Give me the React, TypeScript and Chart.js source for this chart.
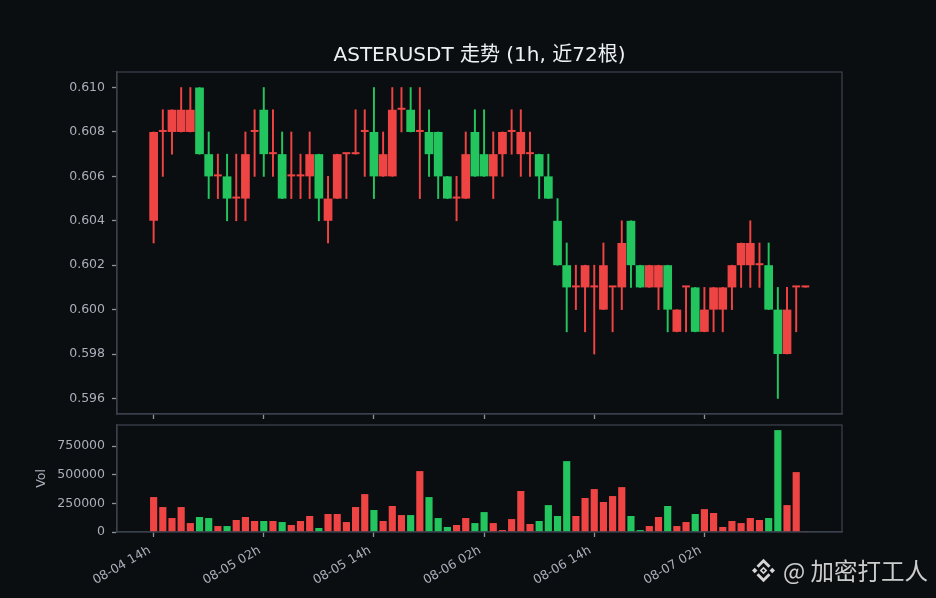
import React, { useEffect, useRef } from 'react';
import { Chart, registerables } from 'chart.js';

Chart.register(...registerables);

// ---- data (1h candles, 72 bars) ----
const opens = [
  0.608, 0.608, 0.609, 0.609, 0.609, 0.607, 0.606, 0.606, 0.605, 0.605, 0.607, 0.608,
  0.607, 0.607, 0.605, 0.606, 0.606, 0.607, 0.605, 0.605, 0.607, 0.607, 0.607, 0.608,
  0.606, 0.607, 0.609, 0.609, 0.608, 0.608, 0.607, 0.606, 0.605, 0.605, 0.607, 0.606,
  0.606, 0.607, 0.608, 0.608, 0.608, 0.607, 0.606, 0.605, 0.602, 0.601, 0.601, 0.602,
  0.601, 0.602, 0.601, 0.603, 0.602, 0.601, 0.602, 0.602, 0.600, 0.600, 0.601, 0.599,
  0.600, 0.601, 0.601, 0.602, 0.603, 0.603, 0.602, 0.600, 0.598, 0.600, 0.601, 0.601,
];
const highs = [
  0.608, 0.609, 0.609, 0.610, 0.610, 0.610, 0.608, 0.607, 0.607, 0.607, 0.608, 0.609,
  0.610, 0.609, 0.608, 0.608, 0.607, 0.608, 0.607, 0.606, 0.607, 0.607, 0.609, 0.609,
  0.610, 0.608, 0.610, 0.610, 0.610, 0.610, 0.609, 0.608, 0.606, 0.606, 0.608, 0.609,
  0.609, 0.608, 0.608, 0.609, 0.609, 0.608, 0.607, 0.607, 0.605, 0.603, 0.602, 0.602,
  0.602, 0.603, 0.601, 0.604, 0.604, 0.602, 0.602, 0.602, 0.602, 0.600, 0.601, 0.601,
  0.601, 0.601, 0.601, 0.602, 0.603, 0.604, 0.603, 0.603, 0.601, 0.601, 0.601, 0.601,
];
const lows = [
  0.603, 0.606, 0.607, 0.608, 0.608, 0.607, 0.605, 0.605, 0.604, 0.604, 0.604, 0.606,
  0.606, 0.606, 0.605, 0.605, 0.605, 0.605, 0.604, 0.603, 0.605, 0.605, 0.607, 0.606,
  0.605, 0.606, 0.606, 0.608, 0.608, 0.605, 0.606, 0.605, 0.605, 0.604, 0.605, 0.606,
  0.606, 0.605, 0.606, 0.607, 0.606, 0.606, 0.605, 0.605, 0.602, 0.599, 0.600, 0.599,
  0.598, 0.600, 0.599, 0.600, 0.601, 0.601, 0.601, 0.600, 0.599, 0.599, 0.599, 0.599,
  0.599, 0.599, 0.599, 0.600, 0.601, 0.601, 0.601, 0.600, 0.596, 0.598, 0.599, 0.601,
];
const closes = [
  0.604, 0.608, 0.608, 0.608, 0.608, 0.610, 0.607, 0.606, 0.606, 0.605, 0.605, 0.608,
  0.609, 0.607, 0.607, 0.606, 0.606, 0.606, 0.607, 0.604, 0.605, 0.607, 0.607, 0.608,
  0.608, 0.606, 0.606, 0.609, 0.609, 0.608, 0.608, 0.608, 0.606, 0.605, 0.605, 0.608,
  0.607, 0.606, 0.607, 0.608, 0.607, 0.607, 0.607, 0.606, 0.604, 0.602, 0.601, 0.601,
  0.601, 0.600, 0.601, 0.601, 0.604, 0.602, 0.601, 0.601, 0.602, 0.599, 0.601, 0.601,
  0.599, 0.600, 0.600, 0.601, 0.602, 0.602, 0.602, 0.602, 0.600, 0.598, 0.601, 0.601,
];
const volumes = [
  305000, 218000, 122000, 218000, 78000, 131000, 122000, 52000, 52000, 105000, 131000, 96000,
  96000, 96000, 87000, 61000, 96000, 140000, 35000, 157000, 157000, 87000, 218000, 331000,
  192000, 96000, 227000, 148000, 148000, 532000, 305000, 122000, 44000, 61000, 122000, 78000,
  174000, 78000, 17000, 113000, 358000, 70000, 96000, 235000, 140000, 619000, 140000, 297000,
  375000, 262000, 314000, 392000, 140000, 17000, 52000, 131000, 227000, 52000, 87000, 157000,
  200000, 166000, 44000, 96000, 78000, 122000, 105000, 122000, 890000, 235000, 523000, 2000,
];
const xTickIndex = [0, 12, 24, 36, 48, 60];
const xTickLabels = ['08-04 14h', '08-05 02h', '08-05 14h', '08-06 02h', '08-06 14h', '08-07 02h'];
const priceTicks = [0.596, 0.598, 0.6, 0.602, 0.604, 0.606, 0.608, 0.61];
const volTicks = [0, 250000, 500000, 750000];

// ---- styling ----
const UP = '#22c55e';
const DOWN = '#ef4444';
const BG = '#0b0e11';
const FRAME = '#3a404c';
const TICKC = '#8c929c';
const TEXT = '#a9b0ba';
const FONT = "'DejaVu Sans', 'Noto Sans CJK SC', sans-serif";
const W = 936;
const H = 598;

const n = opens.length;
const colorOf = (i: number) => (closes[i] > opens[i] ? UP : DOWN);
const BODY_W = 0.8;
const xMin = -BODY_W / 2 - 0.05 * (n - 1 + BODY_W);
const xMax = n - 1 + BODY_W / 2 + 0.05 * (n - 1 + BODY_W);
const pLo = Math.min(...lows);
const pHi = Math.max(...highs);
const yMin = pLo - 0.05 * (pHi - pLo);
const yMax = pHi + 0.05 * (pHi - pLo);
const vMax = Math.max(...volumes) * 1.05;

const framePlugin = {
  id: 'frame',
  afterDatasetsDraw(chart: any) {
    const { ctx, chartArea } = chart;
    const { left, top, right, bottom } = chartArea;
    ctx.save();
    ctx.strokeStyle = FRAME;
    ctx.lineWidth = 1.3;
    ctx.strokeRect(left, top, right - left, bottom - top);
    ctx.restore();
  },
};

const setTicks = (vals: number[]) => (s: any) => {
  s.ticks = vals.map((v) => ({ value: v }));
};

function xAxis(showLabels: boolean, height: number) {
  return {
    type: 'linear' as const,
    min: xMin,
    max: xMax,
    offset: false,
    afterBuildTicks: setTicks(xTickIndex),
    afterFit: (s: any) => {
      s.height = height;
    },
    ticks: {
      display: showLabels,
      autoSkip: false,
      maxRotation: 30,
      minRotation: 30,
      padding: 6,
      labelOffset: -4,
      color: TEXT,
      font: { family: FONT, size: 12.5 },
      callback: (v: any) => {
        const k = xTickIndex.indexOf(Number(v));
        return k >= 0 ? xTickLabels[k] : '';
      },
    },
    grid: {
      display: true,
      offset: false,
      drawOnChartArea: false,
      drawTicks: true,
      tickLength: 5,
      tickColor: TICKC,
      tickWidth: 1.3,
      color: FRAME,
    },
    border: { display: true, color: FRAME, width: 1.3 },
  };
}

function yAxisBase(ticks: number[], fmt: (v: number) => string) {
  return {
    type: 'linear' as const,
    beginAtZero: false,
    afterBuildTicks: setTicks(ticks),
    afterFit: (s: any) => {
      s.width = 117;
    },
    ticks: {
      color: TEXT,
      padding: 7,
      font: { family: FONT, size: 12.5 },
      callback: (v: any) => fmt(Number(v)),
    },
    grid: {
      display: true,
      drawOnChartArea: false,
      drawTicks: true,
      tickLength: 5,
      tickColor: TICKC,
      tickWidth: 1.3,
      color: FRAME,
    },
    border: { display: true, color: FRAME, width: 1.3 },
  };
}

function BinanceLogo() {
  const c = '#d6d6d6';
  return (
    <svg width="27" height="27" viewBox="0 0 24 24" style={{ display: 'block' }}>
      <polygon fill={c} points="12,1.5 18.2,7.7 16.4,9.5 12,5.1 7.6,9.5 5.8,7.7" />
      <polygon fill={c} points="12,22.5 18.2,16.3 16.4,14.5 12,18.9 7.6,14.5 5.8,16.3" />
      <polygon fill={c} points="4.2,9.6 6.6,12 4.2,14.4 1.8,12" />
      <polygon fill={c} points="19.8,9.6 22.2,12 19.8,14.4 17.4,12" />
      <polygon fill={c} points="12,8.6 15.4,12 12,15.4 8.6,12" />
      <polygon fill={BG} points="12,10.6 13.4,12 12,13.4 10.6,12" />
    </svg>
  );
}

export default function App() {
  const priceRef = useRef<HTMLCanvasElement | null>(null);
  const volRef = useRef<HTMLCanvasElement | null>(null);

  useEffect(() => {
    const idx = opens.map((_, i) => i);
    const bodies = idx
      .filter((i) => opens[i] !== closes[i])
      .map((i) => ({ x: i, y: [opens[i], closes[i]] }));
    const dojis = idx
      .filter((i) => opens[i] === closes[i])
      .map((i) => ({ x: i, y: [opens[i], closes[i]] }));
    const wicks = idx.map((i) => ({ x: i, y: [lows[i], highs[i]] }));
    const rawColor = (ctx: any) => colorOf(ctx.raw ? ctx.raw.x : 0);

    const price = new Chart(priceRef.current as HTMLCanvasElement, {
      type: 'bar',
      data: {
        datasets: [
          {
            label: 'wick',
            data: wicks as any,
            backgroundColor: rawColor,
            barThickness: 1.3,
            grouped: false,
            order: 3,
          } as any,
          {
            label: 'body',
            data: bodies as any,
            backgroundColor: rawColor,
            categoryPercentage: 1,
            barPercentage: 0.95,
            grouped: false,
            order: 2,
          } as any,
          {
            label: 'doji',
            data: dojis as any,
            backgroundColor: rawColor,
            categoryPercentage: 1,
            barPercentage: 0.85,
            minBarLength: 2,
            grouped: false,
            order: 1,
          } as any,
        ],
      },
      options: {
        responsive: false,
        animation: false,
        events: [],
        layout: { padding: { left: 0, right: W - 842, top: 0, bottom: H - 414 - 6 } },
        scales: {
          x: xAxis(false, 6) as any,
          y: { ...yAxisBase(priceTicks, (v) => v.toFixed(3)), min: yMin, max: yMax } as any,
        },
        plugins: {
          legend: { display: false },
          tooltip: { enabled: false },
          title: {
            display: true,
            text: 'ASTERUSDT 走势 (1h, 近72根)',
            color: '#eef0f3',
            fullSize: false,
            font: { family: FONT, size: 20, weight: 'normal' as any },
            padding: { top: 44, bottom: 4 },
          },
        },
      },
      plugins: [framePlugin],
    });

    const vol = new Chart(volRef.current as HTMLCanvasElement, {
      type: 'bar',
      data: {
        datasets: [
          {
            label: 'Vol',
            data: idx.map((i) => ({ x: i, y: volumes[i] })) as any,
            backgroundColor: rawColor,
            categoryPercentage: 1,
            barPercentage: 0.78,
            grouped: false,
          } as any,
        ],
      },
      options: {
        responsive: false,
        animation: false,
        events: [],
        layout: { padding: { left: 0, right: W - 842, top: 425, bottom: 0 } },
        scales: {
          x: xAxis(true, H - 532) as any,
          y: {
            ...yAxisBase(volTicks, (v) => String(Math.round(v))),
            min: 0,
            max: vMax,
            title: {
              display: true,
              text: 'Vol',
              color: TEXT,
              font: { family: FONT, size: 12.5 },
              padding: { top: 34, bottom: 0 },
            },
          } as any,
        },
        plugins: {
          legend: { display: false },
          tooltip: { enabled: false },
        },
      },
      plugins: [framePlugin],
    });

    return () => {
      price.destroy();
      vol.destroy();
    };
  }, []);

  return (
    <div
      style={{
        position: 'fixed',
        left: 0,
        top: 0,
        width: W,
        height: H,
        background: BG,
        overflow: 'hidden',
      }}
    >
      <canvas
        ref={volRef}
        width={W}
        height={H}
        style={{ position: 'absolute', left: 0, top: 0, width: W, height: H }}
      />
      <canvas
        ref={priceRef}
        width={W}
        height={H}
        style={{ position: 'absolute', left: 0, top: 0, width: W, height: H }}
      />
      <div
        style={{
          position: 'absolute',
          left: 750,
          top: 556,
          height: 28,
          display: 'flex',
          alignItems: 'center',
          gap: 6,
          color: 'rgba(226,226,226,0.9)',
          fontFamily: "'Noto Sans CJK SC', 'DejaVu Sans', sans-serif",
          fontSize: 23.5,
          lineHeight: '28px',
          whiteSpace: 'nowrap',
        }}
      >
        <BinanceLogo />
        <span>@ 加密打工人</span>
      </div>
    </div>
  );
}
